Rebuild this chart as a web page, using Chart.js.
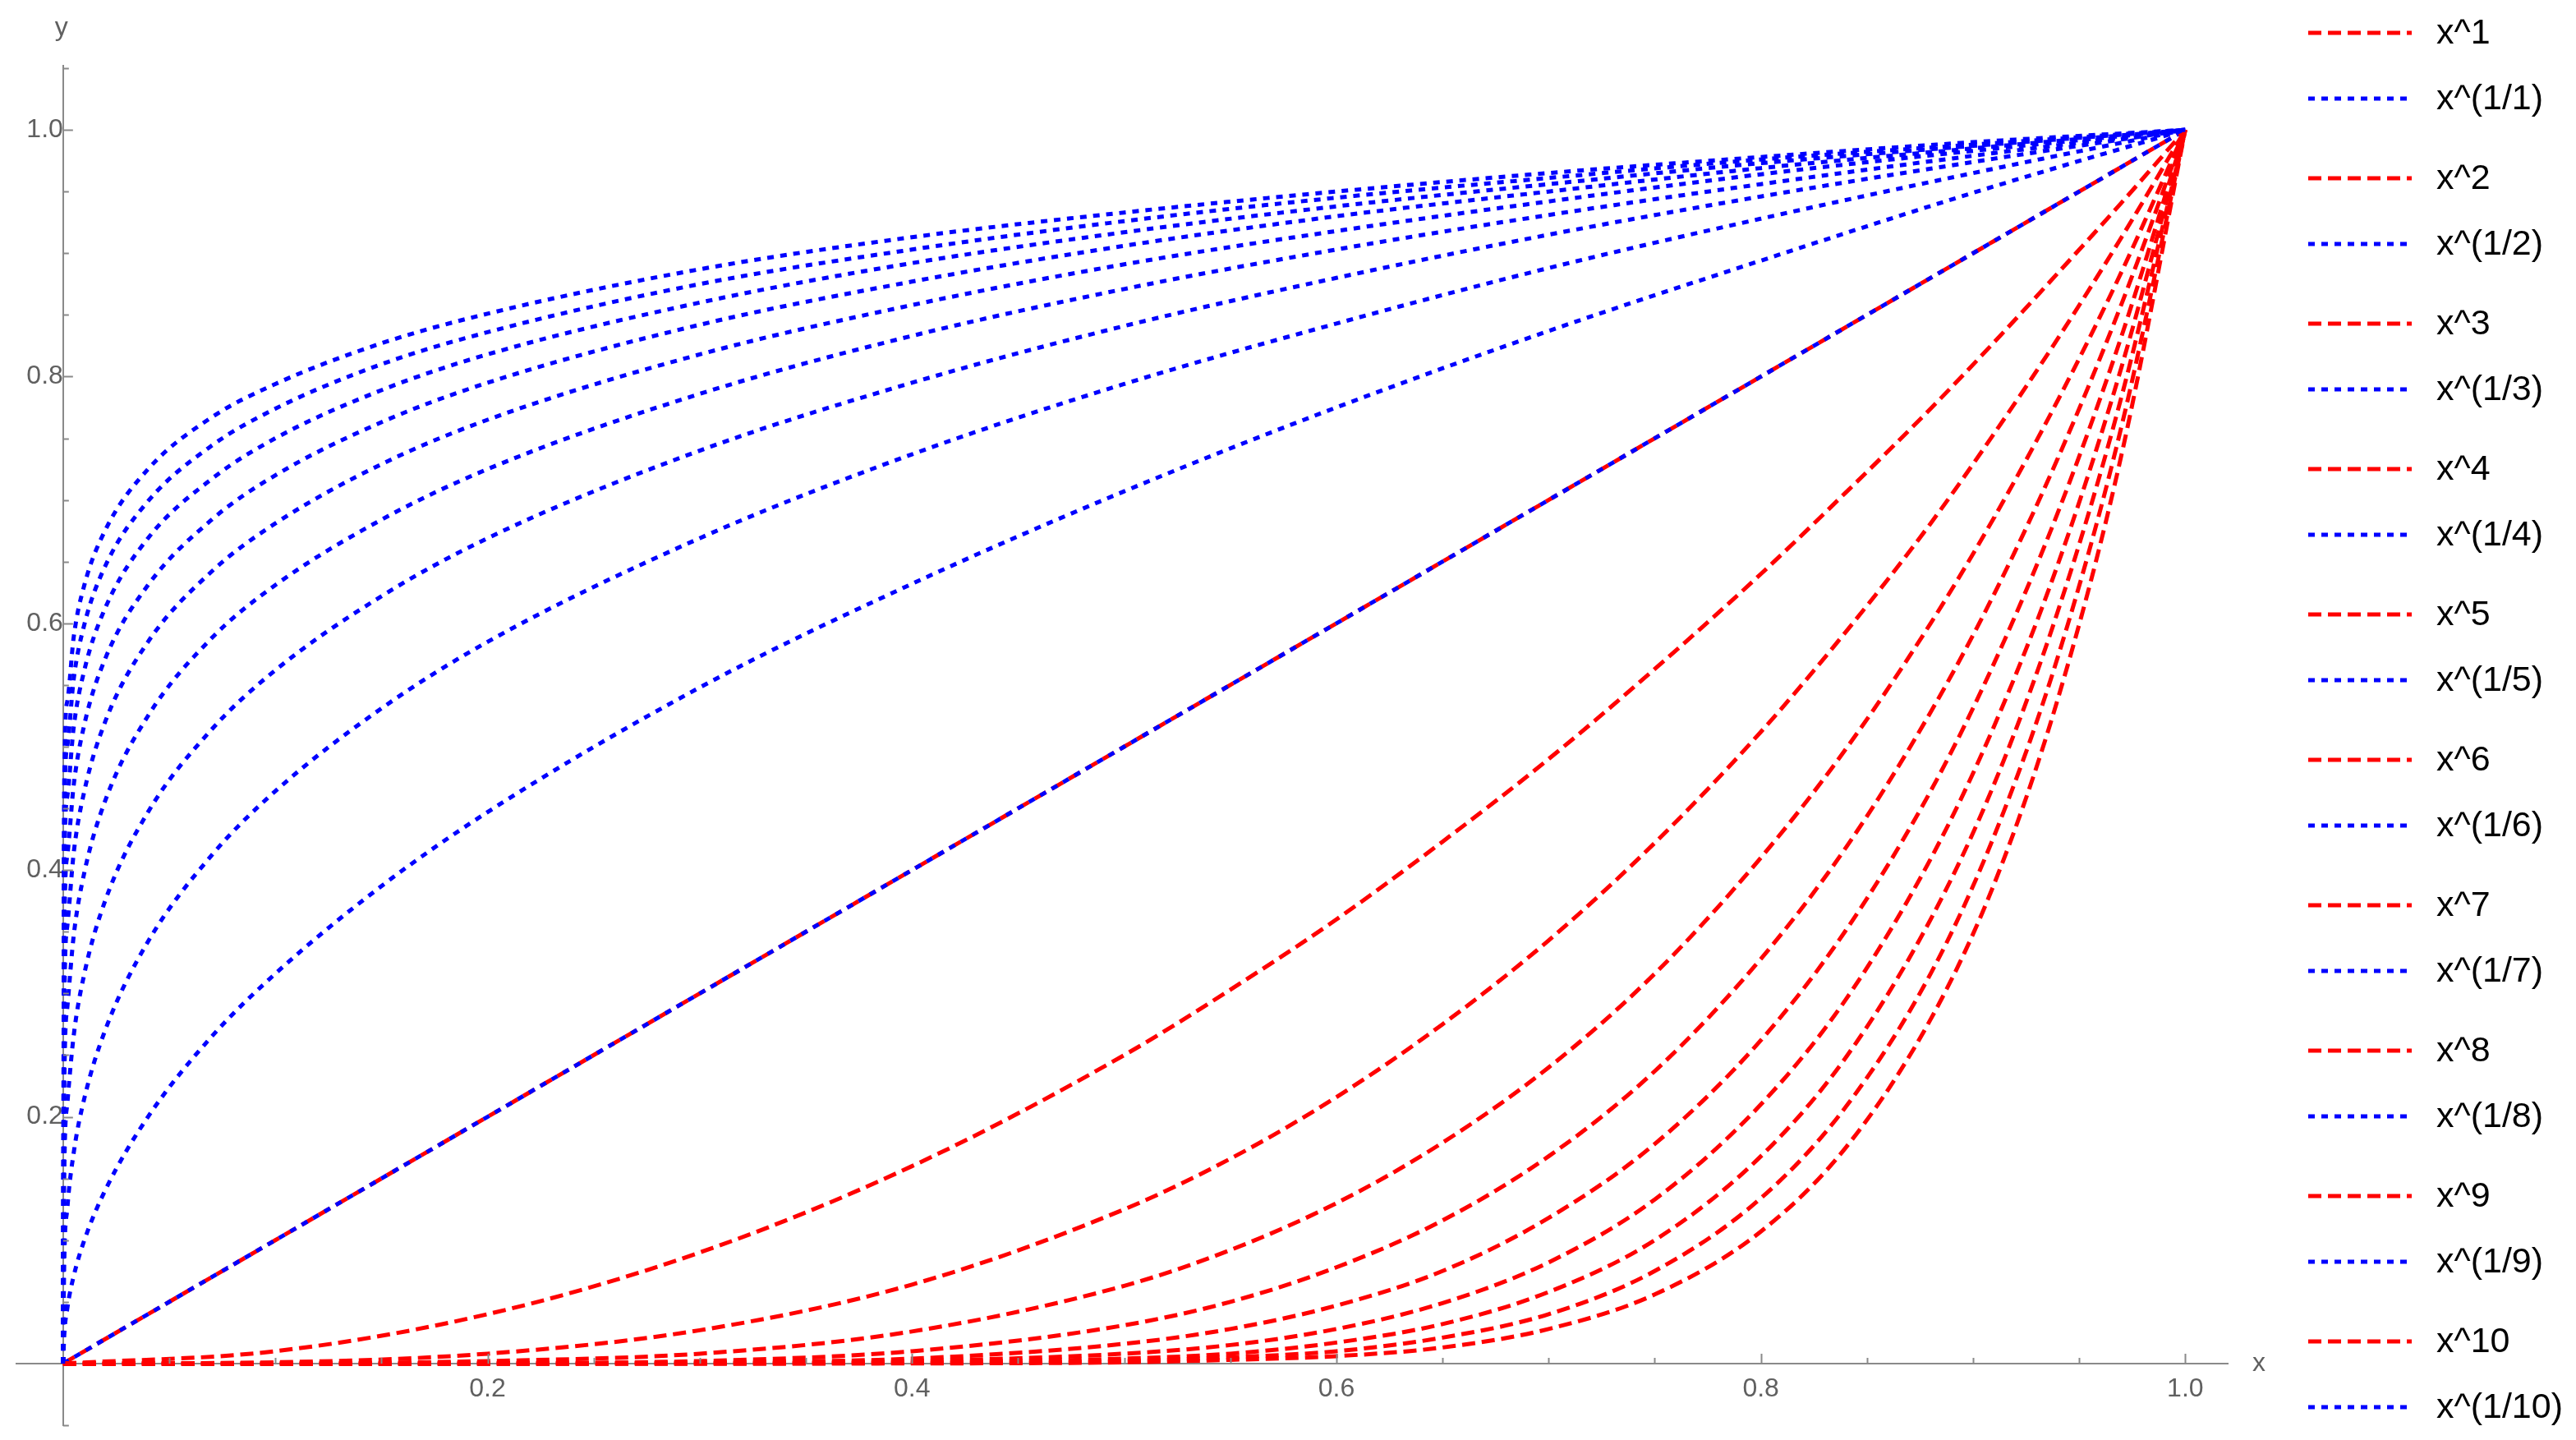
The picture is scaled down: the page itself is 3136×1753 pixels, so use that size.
<!DOCTYPE html>
<html>
<head>
<meta charset="utf-8">
<script src="https://cdn.jsdelivr.net/npm/chart.js@4.4.1/dist/chart.umd.min.js"></script>
<style>
  html, body { margin: 0; padding: 0; background: #fff; }
  #plot { display: block; }
</style>
</head>
<body>
<canvas id="plot" width="3136" height="1753"></canvas>
<script>
// sample positions along x for the two families of curves
const powerX = [0, 0.1, 0.2, 0.3, 0.4, 0.5, 0.55, 0.6, 0.65, 0.7, 0.75, 0.8, 0.84, 0.88, 0.91, 0.94, 0.97, 1];
const rootX = [0, 0.0005, 0.002, 0.005, 0.01, 0.02, 0.04, 0.07, 0.1, 0.15, 0.2, 0.3, 0.4, 0.5, 0.6, 0.7, 0.8, 0.9, 1];

// x^n values at powerX
const pow1 = [0, 0.1, 0.2, 0.3, 0.4, 0.5, 0.55, 0.6, 0.65, 0.7, 0.75, 0.8, 0.84, 0.88, 0.91, 0.94, 0.97, 1];
const pow2 = [0, 0.01, 0.04, 0.09, 0.16, 0.25, 0.303, 0.36, 0.423, 0.49, 0.563, 0.64, 0.706, 0.774, 0.828, 0.884, 0.941, 1];
const pow3 = [0, 0.001, 0.008, 0.027, 0.064, 0.125, 0.166, 0.216, 0.275, 0.343, 0.422, 0.512, 0.593, 0.681, 0.754, 0.831, 0.913, 1];
const pow4 = [0, 0.0001, 0.002, 0.008, 0.026, 0.063, 0.092, 0.13, 0.179, 0.24, 0.316, 0.41, 0.498, 0.6, 0.686, 0.781, 0.885, 1];
const pow5 = [0, 0, 0.0003, 0.002, 0.01, 0.031, 0.05, 0.078, 0.116, 0.168, 0.237, 0.328, 0.418, 0.528, 0.624, 0.734, 0.859, 1];
const pow6 = [0, 0, 0.0001, 0.001, 0.004, 0.016, 0.028, 0.047, 0.075, 0.118, 0.178, 0.262, 0.351, 0.464, 0.568, 0.69, 0.833, 1];
const pow7 = [0, 0, 0, 0.0002, 0.002, 0.008, 0.015, 0.028, 0.049, 0.082, 0.133, 0.21, 0.295, 0.409, 0.517, 0.648, 0.808, 1];
const pow8 = [0, 0, 0, 0.0001, 0.001, 0.004, 0.008, 0.017, 0.032, 0.058, 0.1, 0.168, 0.248, 0.36, 0.47, 0.61, 0.784, 1];
const pow9 = [0, 0, 0, 0, 0.0003, 0.002, 0.005, 0.01, 0.021, 0.04, 0.075, 0.134, 0.208, 0.316, 0.428, 0.573, 0.76, 1];
const pow10 = [0, 0, 0, 0, 0.0001, 0.001, 0.003, 0.006, 0.013, 0.028, 0.056, 0.107, 0.175, 0.279, 0.389, 0.539, 0.737, 1];

// x^(1/n) values at rootX
const root1 = [0, 0.0005, 0.002, 0.005, 0.01, 0.02, 0.04, 0.07, 0.1, 0.15, 0.2, 0.3, 0.4, 0.5, 0.6, 0.7, 0.8, 0.9, 1];
const root2 = [0, 0.022, 0.045, 0.071, 0.1, 0.141, 0.2, 0.265, 0.316, 0.387, 0.447, 0.548, 0.632, 0.707, 0.775, 0.837, 0.894, 0.949, 1];
const root3 = [0, 0.079, 0.126, 0.171, 0.215, 0.271, 0.342, 0.412, 0.464, 0.531, 0.585, 0.669, 0.737, 0.794, 0.843, 0.888, 0.928, 0.965, 1];
const root4 = [0, 0.15, 0.211, 0.266, 0.316, 0.376, 0.447, 0.514, 0.562, 0.622, 0.669, 0.74, 0.795, 0.841, 0.88, 0.915, 0.946, 0.974, 1];
const root5 = [0, 0.219, 0.289, 0.347, 0.398, 0.457, 0.525, 0.588, 0.631, 0.684, 0.725, 0.786, 0.833, 0.871, 0.903, 0.931, 0.956, 0.979, 1];
const root6 = [0, 0.282, 0.355, 0.414, 0.464, 0.521, 0.585, 0.642, 0.681, 0.729, 0.765, 0.818, 0.858, 0.891, 0.918, 0.942, 0.964, 0.983, 1];
const root7 = [0, 0.338, 0.412, 0.469, 0.518, 0.572, 0.631, 0.684, 0.72, 0.763, 0.795, 0.842, 0.877, 0.906, 0.93, 0.95, 0.969, 0.985, 1];
const root8 = [0, 0.387, 0.46, 0.516, 0.562, 0.613, 0.669, 0.717, 0.75, 0.789, 0.818, 0.86, 0.892, 0.917, 0.938, 0.956, 0.973, 0.987, 1];
const root9 = [0, 0.43, 0.501, 0.555, 0.599, 0.647, 0.699, 0.744, 0.774, 0.81, 0.836, 0.875, 0.903, 0.926, 0.945, 0.961, 0.976, 0.988, 1];
const root10 = [0, 0.468, 0.537, 0.589, 0.631, 0.676, 0.725, 0.767, 0.794, 0.827, 0.851, 0.887, 0.913, 0.933, 0.95, 0.965, 0.978, 0.99, 1];

const powerLabels = ["x^1", "x^2", "x^3", "x^4", "x^5", "x^6", "x^7", "x^8", "x^9", "x^10"];
const rootLabels = ["x^(1/1)", "x^(1/2)", "x^(1/3)", "x^(1/4)", "x^(1/5)", "x^(1/6)", "x^(1/7)", "x^(1/8)", "x^(1/9)", "x^(1/10)"];

// axis ticks (minor every 0.05, labels on the majors)
const xTickValues = [0.05, 0.1, 0.15, 0.2, 0.25, 0.3, 0.35, 0.4, 0.45, 0.5, 0.55, 0.6, 0.65, 0.7, 0.75, 0.8, 0.85, 0.9, 0.95, 1.0];
const yTickValues = [-0.05, 0.05, 0.1, 0.15, 0.2, 0.25, 0.3, 0.35, 0.4, 0.45, 0.5, 0.55, 0.6, 0.65, 0.7, 0.75, 0.8, 0.85, 0.9, 0.95, 1.0, 1.05];
const majorTicks = [0.2, 0.4, 0.6, 0.8, 1.0];

const powSeries = [pow1, pow2, pow3, pow4, pow5, pow6, pow7, pow8, pow9, pow10];
const rootSeries = [root1, root2, root3, root4, root5, root6, root7, root8, root9, root10];

const RED = "#ff0000";
const BLUE = "#0000ff";
const AXIS = "#8a8a8a";
const TEXT = "#606060";

const isMajor = (v) => majorTicks.some((m) => Math.abs(m - v) < 1e-9);

const datasets = [];
for (let i = 0; i < 10; i++) {
  datasets.push({
    label: powerLabels[i],
    data: powerX.map((x, k) => ({ x: x, y: powSeries[i][k] })),
    borderColor: RED,
    borderWidth: 5,
    borderDash: [16, 8],
    order: -2 * i,
  });
  datasets.push({
    label: rootLabels[i],
    data: rootX.map((x, k) => ({ x: x, y: rootSeries[i][k] })),
    borderColor: BLUE,
    borderWidth: 5,
    borderDash: [8, 8],
    order: -2 * i - 1, // later series sit on top, so x^(1/1) shows over x^1
  });
}

// ticks that point into the plot, plus the "x" / "y" axis names
const insideTicks = {
  id: "insideTicks",
  afterDatasetsDraw(chart) {
    const ctx = chart.ctx;
    const xs = chart.scales.x;
    const ys = chart.scales.y;
    const x0 = xs.getPixelForValue(0);
    const y0 = ys.getPixelForValue(0);
    ctx.save();
    ctx.strokeStyle = AXIS;
    ctx.lineWidth = 2;
    ctx.beginPath();
    xTickValues.forEach((v) => {
      const px = Math.round(xs.getPixelForValue(v)) + 0.5;
      const len = isMajor(v) ? 12 : 7;
      ctx.moveTo(px, y0);
      ctx.lineTo(px, y0 - len);
    });
    yTickValues.forEach((v) => {
      const py = Math.round(ys.getPixelForValue(v)) + 0.5;
      const len = isMajor(v) ? 12 : 7;
      ctx.moveTo(x0, py);
      ctx.lineTo(x0 + len, py);
    });
    ctx.stroke();

    ctx.fillStyle = TEXT;
    ctx.font = "32px 'Liberation Sans'";
    ctx.textAlign = "center";
    ctx.textBaseline = "middle";
    ctx.fillText("x", xs.right + 38, y0);
    ctx.fillText("y", x0 - 2, ys.top - 46);
    ctx.restore();
  },
};

// legend on the right, grouped in pairs like the original
const sideLegend = {
  id: "sideLegend",
  afterDraw(chart) {
    const ctx = chart.ctx;
    ctx.save();
    chart.data.datasets.forEach((ds, i) => {
      const y = 40 + Math.floor(i / 2) * 177 + (i % 2) * 80;
      ctx.strokeStyle = ds.borderColor;
      ctx.lineWidth = ds.borderWidth;
      ctx.setLineDash(ds.borderDash);
      ctx.beginPath();
      ctx.moveTo(2810, y);
      ctx.lineTo(2936, y);
      ctx.stroke();
      ctx.setLineDash([]);
      ctx.fillStyle = "#000";
      ctx.font = "43px 'Liberation Sans'";
      ctx.textAlign = "left";
      ctx.textBaseline = "middle";
      ctx.fillText(ds.label, 2966, y + 1);
    });
    ctx.restore();
  },
};

// keep tick-label overflow from shrinking the plot area
const noLabelPadding = (scale) => {
  scale.paddingTop = 0;
  scale.paddingBottom = 0;
  scale.paddingLeft = 0;
  scale.paddingRight = 0;
};

Chart.defaults.font.family = "'Liberation Sans', Arial, sans-serif";

new Chart(document.getElementById("plot"), {
  type: "scatter",
  data: { datasets: datasets },
  options: {
    responsive: false,
    devicePixelRatio: 1,
    animation: false,
    showLine: true,
    elements: {
      point: { radius: 0, hoverRadius: 0 },
      line: { cubicInterpolationMode: "monotone", fill: false },
    },
    layout: { padding: { left: 20, right: 424, top: 80, bottom: 18 } },
    scales: {
      x: {
        type: "linear",
        min: -0.022,
        max: 1.02,
        position: { y: 0 },
        afterBuildTicks: (scale) => {
          scale.ticks = xTickValues.map((v) => ({ value: v }));
        },
        afterFit: noLabelPadding,
        grid: { display: false, drawTicks: false },
        border: { display: true, color: AXIS, width: 2 },
        ticks: {
          autoSkip: false,
          maxRotation: 0,
          padding: 12,
          color: TEXT,
          font: { size: 32 },
          callback: (v) => (isMajor(v) ? v.toFixed(1) : ""),
        },
      },
      y: {
        type: "linear",
        min: -0.05,
        max: 1.052,
        position: { x: 0 },
        afterBuildTicks: (scale) => {
          scale.ticks = yTickValues.map((v) => ({ value: v }));
        },
        afterFit: noLabelPadding,
        grid: { display: false, drawTicks: false },
        border: { display: true, color: AXIS, width: 2 },
        ticks: {
          autoSkip: false,
          padding: 12,
          color: TEXT,
          font: { size: 32 },
          callback: (v) => (isMajor(v) ? v.toFixed(1) : ""),
        },
      },
    },
    plugins: {
      legend: { display: false },
      tooltip: { enabled: false },
    },
  },
  plugins: [insideTicks, sideLegend],
});
</script>
</body>
</html>
